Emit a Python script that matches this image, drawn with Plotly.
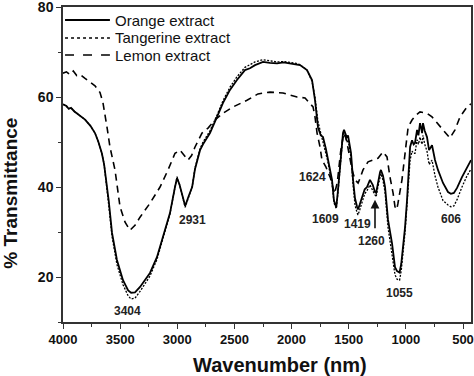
import plotly.graph_objects as go

# ---- data ----
wn = [4000,3970,3950,3930,3900,3870,3840,3807,3760,3720,
      3690,3660,3640,3620,3600,3571,3528,3475,3430,3404,
      3370,3326,3239,3178,3125,3064,3020,3002,2980,2959,
      2931,2900,2870,2845,2801,2775,2714,2652,2600,2539,
      2478,2408,2364,2320,2250,2190,2127,2070,2014,1960,
      1926,1865,1821,1795,1769,1745,1725,1700,1681,1660,
      1646,1629,1609,1595,1576,1560,1550,1541,1525,1515,
      1506,1492,1480,1462,1445,1427,1419,1405,1384,1360,
      1340,1314,1290,1270,1260,1245,1226,1218,1200,1182,
      1156,1121,1095,1077,1055,1040,1034,1007,990,980,
      963,946,932,920,902,890,876,865,858,850,
      835,815,797,771,745,719,675,631,606,580,
      552,509,465,430]

orange = [58.4,58.0,57.4,57.6,56.8,56.2,55.6,55.0,53.6,52.0,
          50.0,47.5,45.0,41.5,37.0,29.8,23.8,19.3,17.0,16.5,
          16.6,17.8,20.9,24.4,28.9,34.2,40.0,42.0,40.5,38.7,
          35.8,38.0,40.0,44.0,48.2,49.5,52.0,55.6,58.7,61.6,
          63.8,66.0,66.4,67.1,67.8,67.6,67.5,67.7,67.5,67.3,
          67.1,66.0,63.8,59.3,53.3,51.5,51.1,48.5,46.0,43.0,
          41.6,37.0,35.5,39.0,45.3,50.0,52.0,52.7,51.5,50.9,
          51.5,49.5,47.6,41.6,37.5,35.6,35.0,36.0,37.8,39.5,
          40.0,41.6,40.5,38.9,38.7,41.0,43.3,43.8,42.5,40.0,
          32.7,27.5,22.2,21.3,21.0,23.0,24.4,31.1,37.0,41.6,
          48.9,50.4,49.5,49.8,52.7,51.5,54.2,53.0,52.0,54.2,
          52.5,51.1,48.2,49.3,46.0,43.8,40.9,38.9,38.5,38.7,
          39.8,42.2,44.4,46.0]

tangerine = [58.4,58.0,57.4,57.6,56.8,56.2,55.6,55.0,53.6,52.0,
             50.0,47.5,45.0,41.0,36.0,29.0,22.8,18.3,15.8,15.1,
             15.3,16.8,20.2,23.9,28.5,34.0,40.0,42.3,40.5,38.5,
             35.5,37.8,40.0,44.2,48.5,50.0,52.5,56.0,59.2,62.2,
             64.5,66.6,67.2,67.8,68.3,68.0,67.8,67.9,67.7,67.5,
             67.2,66.0,63.5,60.0,54.5,52.0,50.5,48.0,45.5,42.5,
             41.0,36.5,35.2,38.5,44.5,49.5,51.5,52.0,51.0,50.0,
             50.5,48.5,46.5,40.5,36.0,34.3,33.8,34.8,36.5,38.5,
             39.2,40.5,39.2,38.0,37.8,40.0,42.5,43.0,41.5,38.8,
             31.0,25.5,20.5,19.5,19.3,21.5,23.0,30.0,36.0,40.0,
             46.0,48.0,47.5,47.5,50.5,49.5,51.1,50.0,49.5,51.5,
             49.5,48.0,45.0,46.0,42.5,40.0,37.0,36.0,35.6,35.8,
             37.2,40.0,42.5,44.0]

wn_lemon = [4000,3970,3940,3910,3880,3850,3810,3760,3720,3676,
            3650,3615,3589,3545,3519,3501,3457,3414,3370,3326,
            3239,3151,3081,3020,2976,2940,2906,2875,2845,2784,
            2731,2670,2600,2512,2390,2294,2189,2075,1952,1882,
            1839,1812,1795,1777,1760,1751,1734,1700,1660,1624,
            1600,1570,1550,1541,1520,1500,1470,1445,1418,1400,
            1375,1331,1287,1244,1200,1165,1139,1112,1095,1080,
            1069,1050,1034,1007,980,946,910,876,845,815,
            771,727,675,614,570,526,465,430]

lemon = [65.3,65.6,65.0,65.8,64.8,65.0,64.2,63.2,62.5,61.0,
         58.7,53.3,48.9,43.8,38.7,35.6,32.2,30.4,31.5,33.3,
         36.4,40.0,43.8,47.5,48.2,47.0,46.0,47.0,48.9,52.0,
         53.1,54.9,56.4,57.8,59.3,60.7,61.1,60.9,60.0,59.8,
         58.7,57.8,55.6,52.0,50.0,48.9,46.0,44.5,42.0,38.5,
         41.0,48.0,51.0,52.0,50.5,48.0,43.8,41.6,40.9,42.0,
         43.8,45.6,46.0,46.4,47.8,46.7,42.2,38.7,35.6,35.0,
         36.4,39.0,41.6,47.5,53.3,54.9,56.0,56.7,56.5,56.4,
         55.6,54.2,52.7,50.9,52.7,55.6,57.8,58.5]

series_names = ["Orange extract", "Tangerine extract", "Lemon extract"]

peak_labels = ["3404", "2931", "1624", "1609", "1419", "1055", "606"]
peak_lx = [3440, 2871, 1821, 1707, 1427, 1060, 605]
peak_ly = [12.4, 32.7, 42.2, 32.9, 31.8, 16.4, 32.9]

FONT = "Liberation Sans, Arial, sans-serif"
INK = "#111"
styles = [dict(color="black", width=1.8),
          dict(color="black", width=1.3, dash="2px,1.5px"),
          dict(color="black", width=1.6, dash="7px,5px")]

fig = go.Figure()
fig.add_trace(go.Scatter(x=wn, y=orange, mode="lines", name=series_names[0], line=styles[0]))
fig.add_trace(go.Scatter(x=wn, y=tangerine, mode="lines", name=series_names[1], line=styles[1]))
fig.add_trace(go.Scatter(x=wn_lemon, y=lemon, mode="lines", name=series_names[2], line=styles[2]))

# legend drawn inside the plot, top-left
leg_y = [0.9587, 0.9016, 0.8476]
shape_dash = ["solid", "dot", "dash"]
for name, ly, st, sd in zip(series_names, leg_y, styles, shape_dash):
    fig.add_shape(type="line", xref="paper", yref="paper", x0=0.005, x1=0.115, y0=ly, y1=ly,
                  line=dict(color="black", width=st["width"], dash=sd))
    fig.add_annotation(xref="paper", yref="paper", x=0.1225, y=ly, xanchor="left",
                       yanchor="middle", text=name, showarrow=False,
                       font=dict(family=FONT, size=15, color=INK))

for t, x, y in zip(peak_labels, peak_lx, peak_ly):
    fig.add_annotation(x=x, y=y, text="<b>" + t + "</b>", showarrow=False,
                       font=dict(family=FONT, size=12, color="#222"))

# arrow for 1260
fig.add_annotation(x=1270, y=37.2, ax=1270, ay=30.5, axref="x", ayref="y",
                   xref="x", yref="y", text="", showarrow=True,
                   arrowhead=2, arrowsize=1.1, arrowwidth=1.6, arrowcolor=INK)
fig.add_annotation(x=1305, y=28.0, text="<b>1260</b>", showarrow=False,
                   font=dict(family=FONT, size=12, color="#222"))

# axis titles
fig.add_annotation(xref="paper", yref="paper", x=0.532, y=-0.1365, xanchor="center",
                   yanchor="middle", text="<b>Wavenumber (nm)</b>", showarrow=False,
                   font=dict(family=FONT, size=20, color=INK))
fig.add_annotation(xref="paper", yref="paper", x=-0.128, y=0.41, xanchor="center",
                   yanchor="middle", text="<b>% Transmittance</b>", showarrow=False,
                   textangle=-90, font=dict(family=FONT, size=19, color=INK))

fig.update_layout(
    width=474, height=376,
    margin=dict(l=63, r=3, t=7, b=54),
    paper_bgcolor="white", plot_bgcolor="white",
    font=dict(family=FONT, color=INK),
    showlegend=False,
)
fig.update_xaxes(
    range=[4000, 430], showgrid=False, zeroline=False, automargin=False,
    showline=True, linecolor="#333", linewidth=1.5, mirror=True,
    ticks="outside", ticklen=5, tickwidth=1.3, tickcolor="#333",
    tick0=0, dtick=500, ticklabeloverflow="allow",
    minor=dict(ticks="outside", ticklen=3, dtick=250, tickcolor="#333", tickwidth=1.2),
    tickfont=dict(family=FONT, size=13, color=INK, weight="bold"),
)
fig.update_yaxes(
    range=[10, 80.02], showgrid=False, zeroline=False, automargin=False,
    showline=True, linecolor="#333", linewidth=1.5, mirror=True,
    ticks="outside", ticklen=5, tickwidth=1.3, tickcolor="#333",
    tick0=0, dtick=20, ticklabeloverflow="allow",
    minor=dict(ticks="outside", ticklen=3, dtick=10, tickcolor="#333", tickwidth=1.2),
    tickfont=dict(family=FONT, size=14, color=INK, weight="bold"),
)

fig.write_html("out.html", config={"displayModeBar": False},
               post_script="document.body.style.margin='0';")
